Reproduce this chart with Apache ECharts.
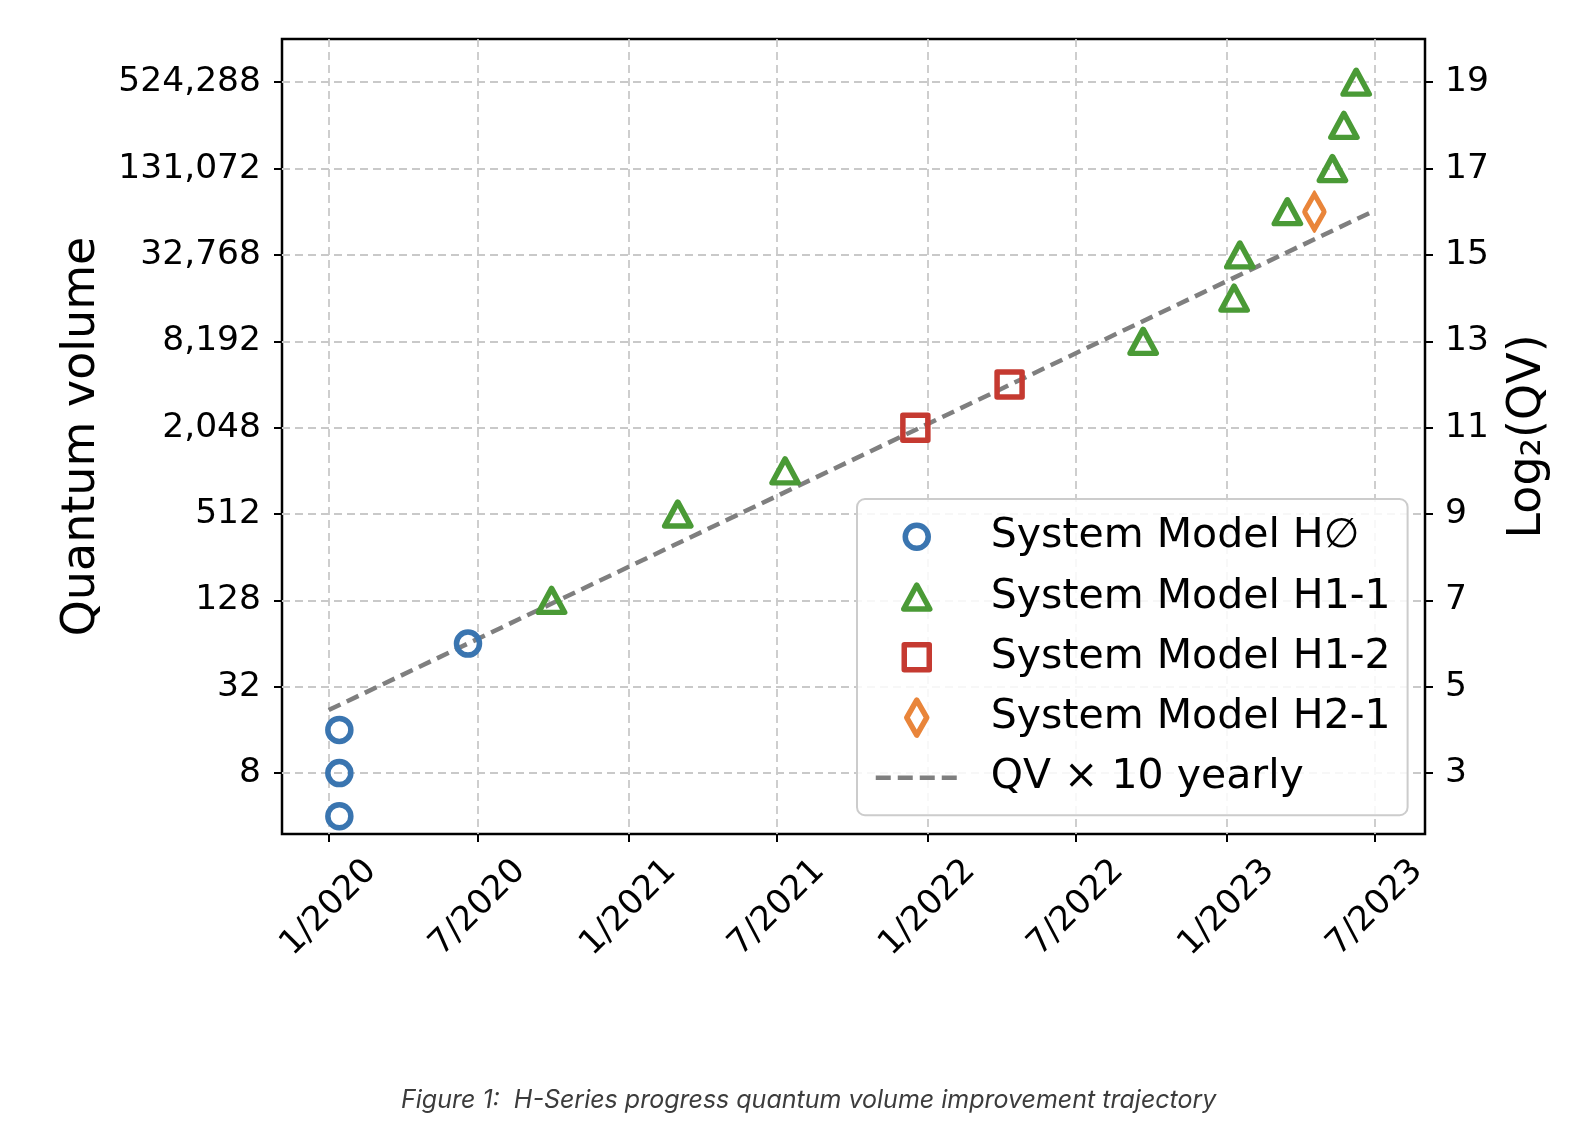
<!DOCTYPE html>
<html><head><meta charset="utf-8">
<script src="https://cdn.jsdelivr.net/npm/echarts@6/dist/echarts.min.js"></script>
<style>html,body{margin:0;padding:0;background:#fff}#chart{width:1570px;height:1130px}</style>
</head><body><div id="chart"></div>
<script>
const h0Dates = ['2020-01-14', '2020-01-14', '2020-01-14', '2020-06-19'];
const h0QV = [4, 8, 16, 64];
const h11Dates = ['2020-09-29', '2021-03-02', '2021-07-11', '2022-09-21', '2023-01-10', '2023-01-17', '2023-03-16', '2023-05-10', '2023-05-24', '2023-06-08'];
const h11QV = [128, 512, 1024, 8192, 16384, 32768, 65536, 131072, 262144, 524288];
const h12Dates = ['2021-12-17', '2022-04-11'];
const h12QV = [2048, 4096];
const h21Dates = ['2023-04-18'];
const h21QV = [65536];
const trendDates = ['2020-01-01', '2023-07-01'];
const trendQV = [22, 67000];
const xTickDates = ['2020-01-01', '2020-07-01', '2021-01-01', '2021-07-01', '2022-01-01', '2022-07-01', '2023-01-01', '2023-07-01'];
const xTickLabels = ['1/2020', '7/2020', '1/2021', '7/2021', '1/2022', '7/2022', '1/2023', '7/2023'];
const yTickLog2 = [3, 5, 7, 9, 11, 13, 15, 17, 19];
const yTickLabelsLeft = ['8', '32', '128', '512', '2,048', '8,192', '32,768', '131,072', '524,288'];
const yTickLabelsRight = ['3', '5', '7', '9', '11', '13', '15', '17', '19'];
const seriesNames = ['System Model H\u2205', 'System Model H1-1', 'System Model H1-2', 'System Model H2-1', 'QV \u00d7 10 yearly'];
const xMin = '2019-11-05', xMax = '2023-08-31';
const yMin = 1.59, yMax = 20.0;

const ts = d => Date.UTC(+d.slice(0, 4), +d.slice(5, 7) - 1, +d.slice(8, 10));
const pts = (dates, qv) => dates.map((d, i) => [ts(d), Math.log2(qv[i])]);
const xTickTs = xTickDates.map(ts);

const FONT = 'DejaVu Sans';
const gridLine = { show: true, lineStyle: { color: '#c9c9c9', width: 1.8, type: [8, 5] } };
const tickStyle = { show: true, length: 8, lineStyle: { color: '#000', width: 2 } };
const COLORS = ['#3a75b0', '#4a9a36', '#c53a31', '#e9853a', '#7f7f7f'];
const MARK_W = 5.5;

// legend icons drawn in an 82 x 36 box (corner moves keep the box size)
const BOX = 'M0 0M82 36';
const legendIcons = [
  'path://' + BOX + 'M52.5 18A11.5 11.5 0 1 1 29.5 18A11.5 11.5 0 1 1 52.5 18Z',
  'path://' + BOX + 'M41 6L54 30L28 30Z',
  'path://' + BOX + 'M28.5 5.5L53.5 5.5L53.5 30.5L28.5 30.5Z',
  'path://' + BOX + 'M41 0.5L51 18L41 35.5L31 18Z'
];

function scatter(name, data, symbol, size, color) {
  return {
    name, type: 'scatter', data, symbol, symbolSize: size,
    itemStyle: { color: 'rgba(255,255,255,0)', borderColor: color, borderWidth: MARK_W, borderJoin: 'round', opacity: 1 },
    emphasis: { disabled: true }, z: 5
  };
}
const iconStyle = { borderWidth: MARK_W, borderJoin: 'round' };

const chart = echarts.init(document.getElementById('chart'), null, { renderer: 'canvas' });
chart.setOption({
  animation: false,
  backgroundColor: '#ffffff',
  textStyle: { fontFamily: FONT },
  grid: { left: 282, right: 145, top: 39, bottom: 296, show: true, borderColor: '#000', borderWidth: 2.5, backgroundColor: 'transparent' },
  xAxis: {
    type: 'value', min: ts(xMin), max: ts(xMax),
    axisLine: { show: false },
    axisTick: Object.assign({ customValues: xTickTs }, tickStyle),
    splitLine: gridLine,
    axisLabel: {
      customValues: xTickTs, rotate: 45, margin: 74, align: 'center', verticalAlign: 'middle',
      color: '#000', fontSize: 34, fontFamily: FONT,
      formatter: v => { const i = xTickTs.indexOf(v); return i >= 0 ? xTickLabels[i] : ''; }
    }
  },
  yAxis: [{
    type: 'value', min: yMin, max: yMax, position: 'left',
    name: 'Quantum volume', nameLocation: 'middle', nameRotate: 90, nameGap: 177,
    nameTextStyle: { fontSize: 46, color: '#000', fontFamily: FONT },
    axisLine: { show: false },
    axisTick: Object.assign({ customValues: yTickLog2 }, tickStyle),
    splitLine: gridLine,
    axisLabel: {
      customValues: yTickLog2, margin: 21, color: '#000', fontSize: 34.5, fontFamily: FONT,
      formatter: v => { const i = yTickLog2.indexOf(v); return i >= 0 ? yTickLabelsLeft[i] : ''; }
    }
  }, {
    type: 'value', min: yMin, max: yMax, position: 'right',
    name: 'Log\u2082(QV)', nameLocation: 'middle', nameRotate: 90, nameGap: 80,
    nameTextStyle: { fontSize: 46, color: '#000', fontFamily: FONT },
    axisLine: { show: false },
    axisTick: Object.assign({ customValues: yTickLog2 }, tickStyle),
    splitLine: { show: false },
    axisLabel: {
      customValues: yTickLog2, margin: 20, color: '#000', fontSize: 34.5, fontFamily: FONT,
      formatter: v => { const i = yTickLog2.indexOf(v); return i >= 0 ? yTickLabelsRight[i] : ''; }
    }
  }],
  legend: {
    orient: 'vertical', left: 857, top: 499,
    data: [
      { name: seriesNames[0], icon: legendIcons[0], itemStyle: iconStyle },
      { name: seriesNames[1], icon: legendIcons[1], itemStyle: iconStyle },
      { name: seriesNames[2], icon: legendIcons[2], itemStyle: iconStyle },
      { name: seriesNames[3], icon: legendIcons[3], itemStyle: iconStyle },
      { name: seriesNames[4], itemStyle: { opacity: 0 }, lineStyle: { color: COLORS[4], width: 4.5, type: [15, 7] } }
    ],
    itemWidth: 82, itemHeight: 36, itemGap: 18.8,
    itemStyle: iconStyle,
    padding: [17, 17, 17, 16],
    backgroundColor: 'rgba(255,255,255,0.85)', borderColor: '#cccccc', borderWidth: 2, borderRadius: 8,
    textStyle: { fontSize: 41, color: '#000', fontFamily: FONT, lineHeight: 40, padding: [0, 0, 0, 28] },
    selectedMode: false
  },
  series: [
    scatter(seriesNames[0], pts(h0Dates, h0QV), 'circle', 23, COLORS[0]),
    scatter(seriesNames[1], pts(h11Dates, h11QV), 'triangle', [26, 24], COLORS[1]),
    scatter(seriesNames[2], pts(h12Dates, h12QV), 'rect', 25, COLORS[2]),
    scatter(seriesNames[3], pts(h21Dates, h21QV), 'diamond', [20, 35], COLORS[3]),
    {
      name: seriesNames[4], type: 'line', data: pts(trendDates, trendQV), symbol: 'none',
      lineStyle: { color: COLORS[4], width: 4.5, type: [13, 7] }, itemStyle: { color: COLORS[4] },
      emphasis: { disabled: true }, z: 3
    }
  ],
  graphic: [{
    type: 'text', left: 401, top: 1088,
    style: { text: 'Figure 1:  H-Series progress quantum volume improvement trajectory', fontFamily: 'Inter', fontStyle: 'italic', fontSize: 25, fill: '#3c3c3c' }
  }]
});
</script></body></html>
